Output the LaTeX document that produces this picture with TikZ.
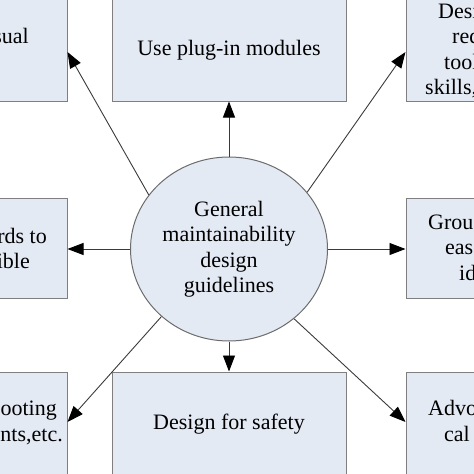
\documentclass[tikz,border=0pt]{standalone}
\usepackage{fontspec}
\setmainfont{Liberation Serif}
\usetikzlibrary{shapes.geometric,arrows.meta}

\definecolor{boxfill}{HTML}{E4EAF4}
\definecolor{boxline}{HTML}{7F7F7F}
\definecolor{linkline}{HTML}{3A3A3A}

\tikzset{
  txt/.style={font=\fontsize{22}{25.5}\selectfont},
  guide/.style={draw=boxline, line width=1pt, fill=boxfill, rectangle,
                minimum width=234pt, inner sep=0pt, txt, align=center},
  hub/.style={draw=boxline!85!black, line width=1pt, fill=boxfill, ellipse,
              minimum width=197pt, minimum height=184pt, inner sep=0pt,
              txt, align=center},
  frag/.style={inner sep=0pt, txt},
  link/.style={draw=linkline, line width=0.9pt,
               -{Triangle[length=16pt,width=12pt,color=black]}}
}

\begin{document}
\begin{tikzpicture}[x=1pt,y=-1pt]
  \useasboundingbox (0,0) rectangle (474,474);

  % outer guideline boxes (the outer column runs past the page edges)
  \node[guide, minimum height=102pt] (tl) at (-50,50) {};
  \node[guide, minimum height=102pt] (tc) at (229,50) {Use plug-in modules};
  \node[guide, minimum height=102pt] (tr) at (523,50) {};
  \node[guide, minimum height=100pt] (ml) at (-50,248) {};
  \node[guide, minimum height=100pt] (mr) at (523,248) {};
  \node[guide, minimum height=104pt] (bl) at (-50,424) {};
  \node[guide, minimum height=104pt] (bc) at (229,424) {Design for safety};
  \node[guide, minimum height=104pt] (br) at (523,424) {};

  % visible parts of the edge boxes' texts
  \node[frag, anchor=base east] (tlA) at (29,43) {sual};
  \node[frag, anchor=base east] (mlA) at (47,243) {rds to};
  \node[frag, anchor=base east] (mlB) at (30,268.5) {ible};
  \node[frag, anchor=base east] (blA) at (57,415.5) {ooting};
  \node[frag, anchor=base east] (blB) at (63,441) {nts,etc.};

  \node[frag, anchor=base west] (trA) at (438,18) {Desi};
  \node[frag, anchor=base west] (trB) at (452,43.5) {red};
  \node[frag, anchor=base west] (trC) at (444,69) {tool};
  \node[frag, anchor=base west] (trD) at (425,94.5) {skills,e};
  \node[frag, anchor=base west] (mrA) at (428,229) {Grou};
  \node[frag, anchor=base west] (mrB) at (445,254.5) {eas};
  \node[frag, anchor=base west] (mrC) at (459,280) {id};
  \node[frag, anchor=base west] (brA) at (428,415.5) {Advo};
  \node[frag, anchor=base west] (brB) at (444,441) {cal};

  % central hub
  \node[hub] (c) at (229,249) {General\\maintainability\\design\\guidelines};

  % connectors from the hub to each guideline
  \draw[link] (c.north) -- (tc.south);
  \draw[link] (c.south) -- (bc.north);
  \draw[link] (c.west) -- (c.west -| ml.east);
  \draw[link] (c.east) -- (c.east -| mr.west);
  \draw[link] (c.146) -- ([yshift=-2pt]tl.east);
  \draw[link] (c.36) -- ([yshift=-2pt]tr.west);
  \draw[link] (c.225) -- ([yshift=2pt]bl.east);
  \draw[link] (c.313) -- ([yshift=2pt]br.west);
\end{tikzpicture}
\end{document}
